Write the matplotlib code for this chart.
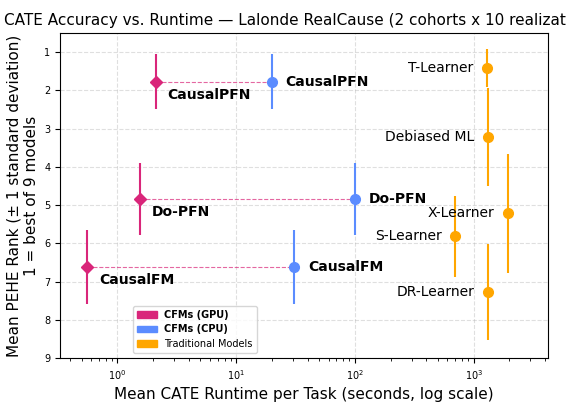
import numpy as np
import matplotlib.pyplot as plt
from matplotlib.patches import Patch

# CFMs: GPU vs CPU runtime, same rank
cfm_names = ['CausalPFN', 'Do-PFN', 'CausalFM']
cfm_rank = [1.78, 4.84, 6.62]
cfm_err = [0.72, 0.95, 0.98]
gpu_time = [2.1, 1.56, 0.56]
cpu_time = [20, 100, 31]

trad_names = ['T-Learner', 'Debiased ML', 'X-Learner', 'S-Learner', 'DR-Learner']
trad_time = [1300, 1320, 1950, 700, 1330]
trad_rank = [1.42, 3.22, 5.22, 5.82, 7.27]
trad_err = [0.5, 1.27, 1.55, 1.05, 1.25]

c_gpu = '#d9267a'
c_cpu = '#5b8cff'
c_trad = '#ffa600'

fig = plt.figure(figsize=(5.67, 4.12), dpi=100)
ax = fig.add_axes([0.106, 0.131, 0.86, 0.789])

for i, n in enumerate(cfm_names):
    ax.plot([gpu_time[i], cpu_time[i]], [cfm_rank[i]] * 2, '--', color=c_gpu, lw=0.8, alpha=0.7)
    ax.errorbar(gpu_time[i], cfm_rank[i], yerr=cfm_err[i], fmt='D', color=c_gpu, ms=6, elinewidth=1.5)
    ax.errorbar(cpu_time[i], cfm_rank[i], yerr=cfm_err[i], fmt='o', color=c_cpu, ms=7, elinewidth=1.5)
    ax.text(gpu_time[i] * 1.25, cfm_rank[i] + 0.15, n, fontsize=10, fontweight='bold', va='top')
    ax.text(cpu_time[i] * 1.3, cfm_rank[i], n, fontsize=10, fontweight='bold', va='center')

for i, n in enumerate(trad_names):
    ax.errorbar(trad_time[i], trad_rank[i], yerr=trad_err[i], fmt='o', color=c_trad, ms=7, elinewidth=1.5)
    ax.text(trad_time[i] / 1.3, trad_rank[i], n, fontsize=10, ha='right', va='center')

ax.set_xscale('log')
ax.set_xlim(0.33, 4200)
ax.set_ylim(9, 0.5)
ax.set_yticks(range(1, 10))
ax.tick_params(labelsize=7)
ax.grid(True, ls='--', alpha=0.4)
ax.set_xlabel('Mean CATE Runtime per Task (seconds, log scale)', fontsize=11)
ax.set_ylabel('Mean PEHE Rank (± 1 standard deviation)\n1 = best of 9 models', fontsize=11)
ax.set_title('CATE Accuracy vs. Runtime — Lalonde RealCause (2 cohorts x 10 realizations)', fontsize=11)

handles = [Patch(color=c_gpu, label='CFMs (GPU)'), Patch(color=c_cpu, label='CFMs (CPU)'),
           Patch(color=c_trad, label='Traditional Models')]
leg = ax.legend(handles=handles, loc='lower left', bbox_to_anchor=(0.14, 0.0), fontsize=7)
for t in leg.get_texts()[:2]:
    t.set_fontweight('bold')

fig.savefig('out.png', dpi=100)
